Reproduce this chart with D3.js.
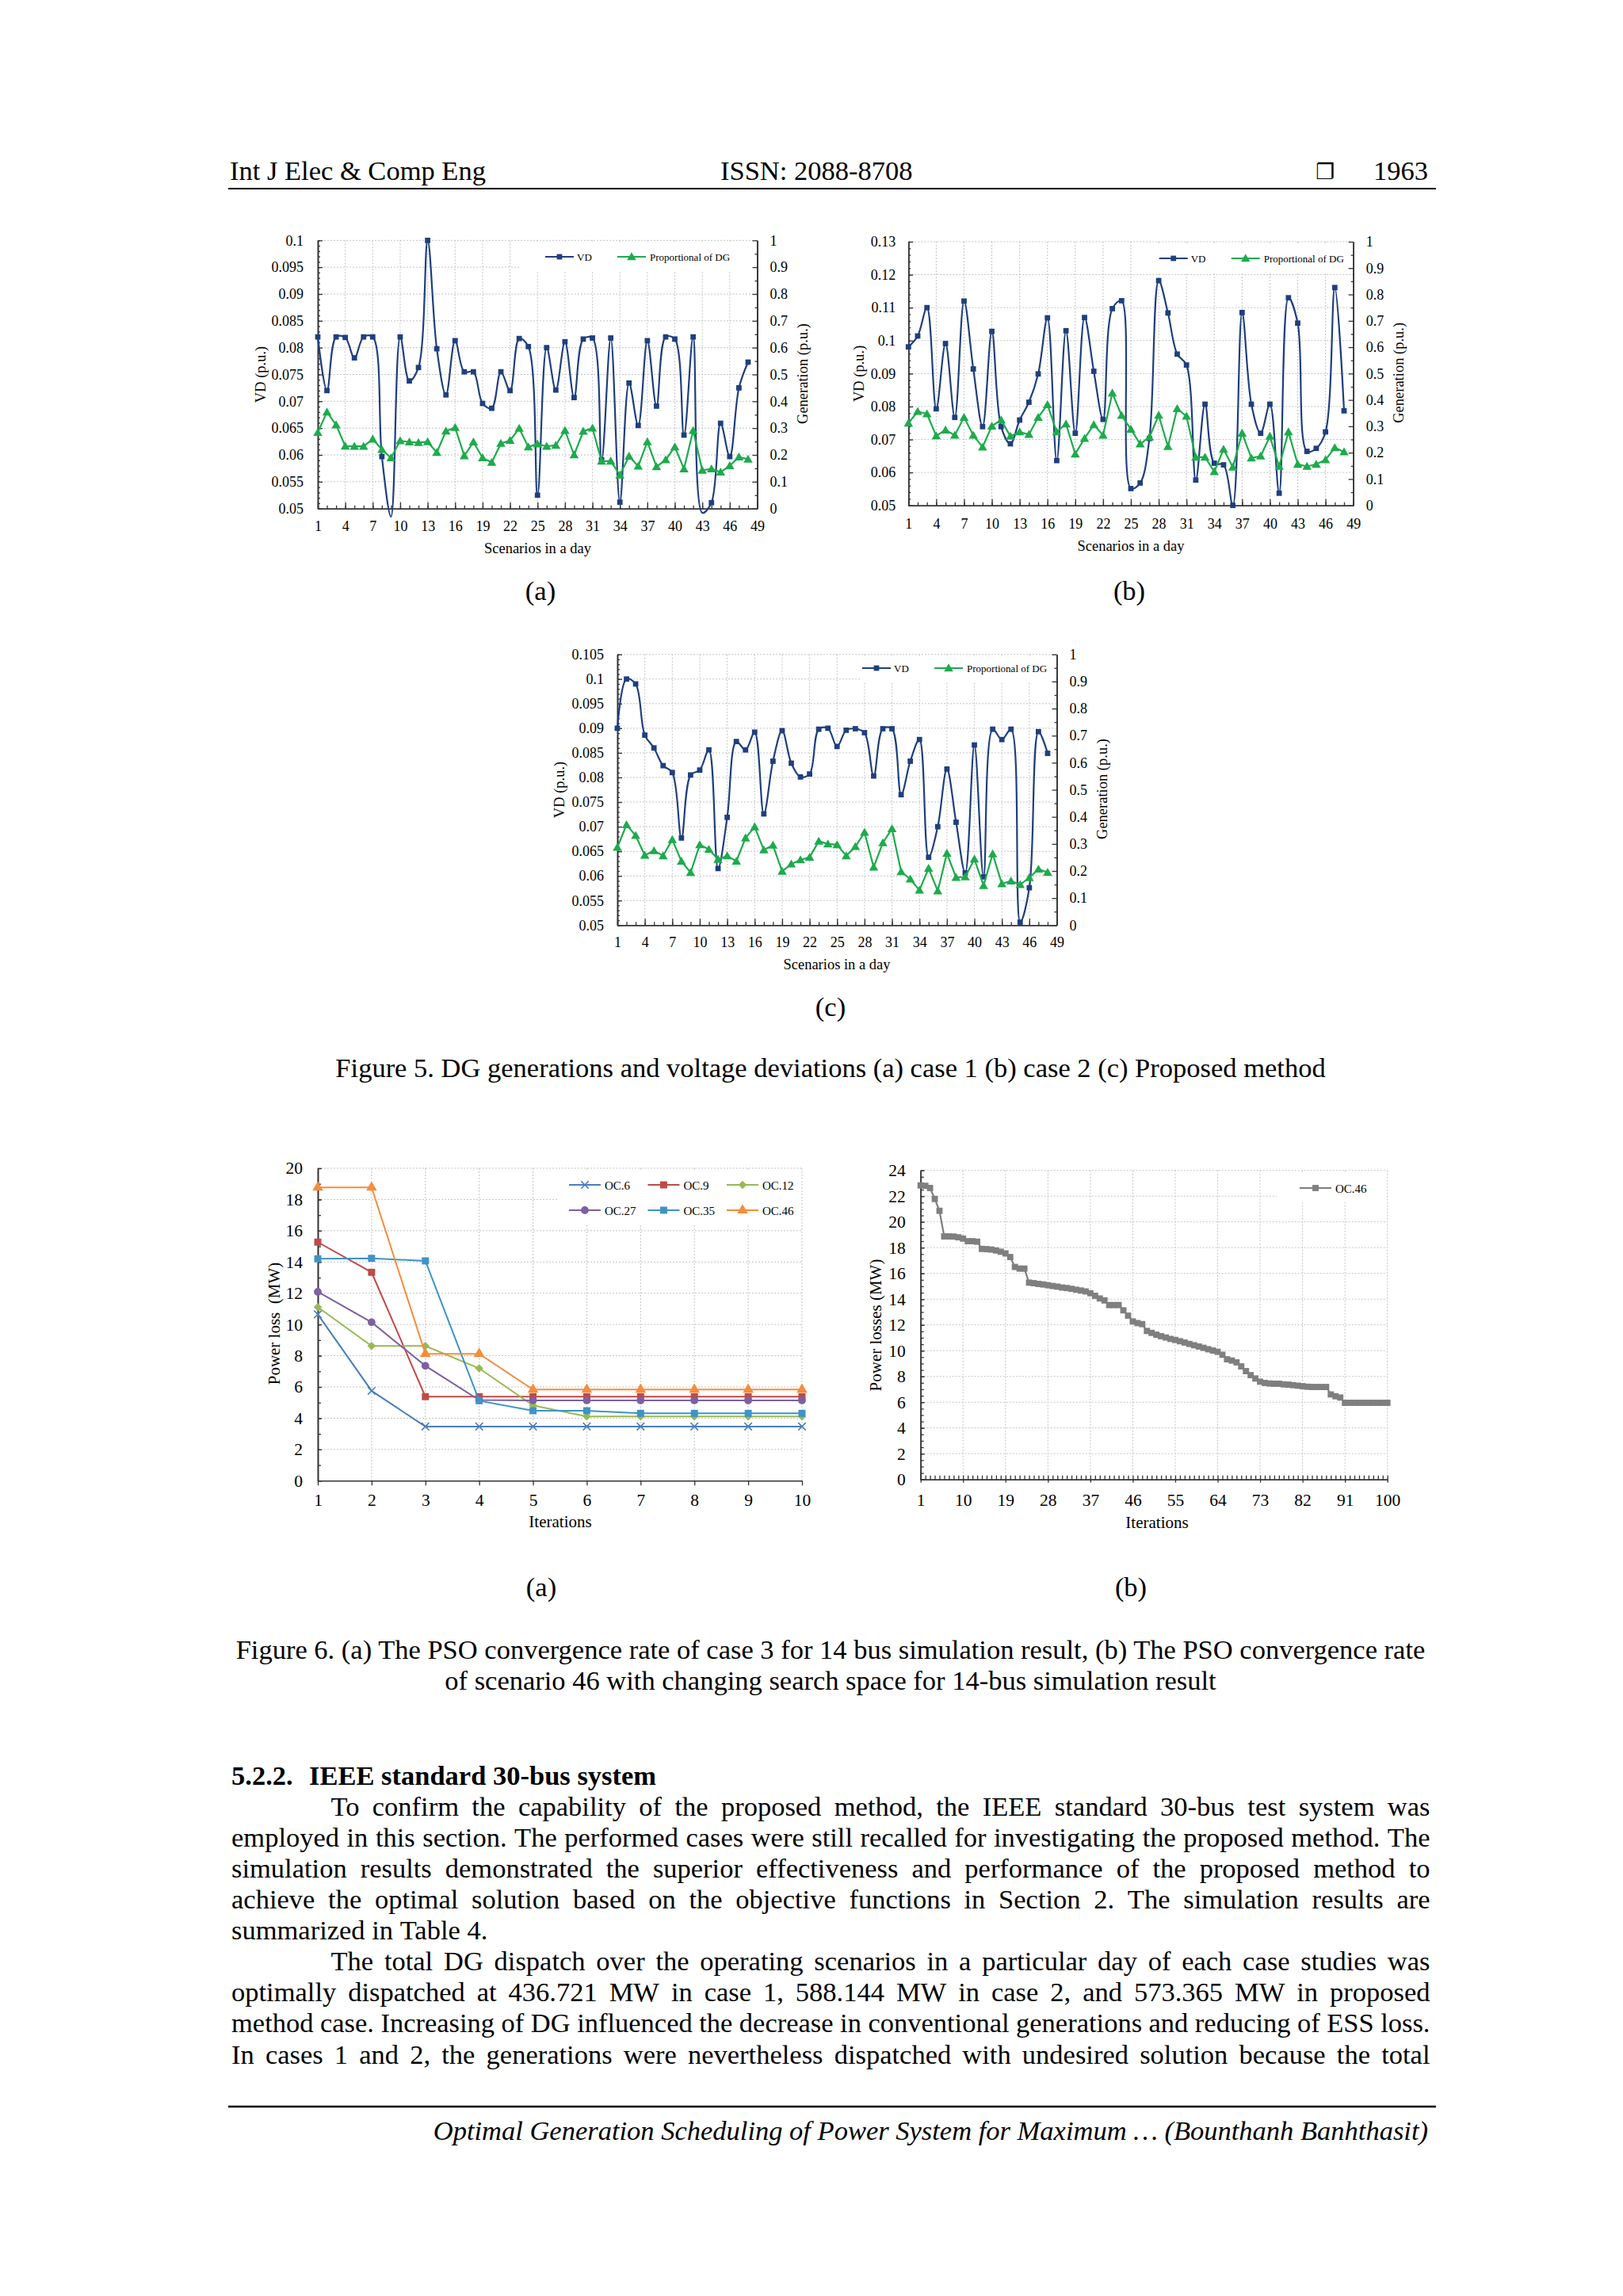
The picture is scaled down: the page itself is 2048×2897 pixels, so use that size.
<!DOCTYPE html>
<html><head><meta charset="utf-8">
<script src="https://cdn.jsdelivr.net/npm/d3@7"></script>
<style>body{margin:0;background:#fff}svg{display:block}</style>
</head><body><svg id="page" width="2048" height="2897"></svg>
<script>
// ---------------- DATA ----------------
const scenarios = [1,2,3,4,5,6,7,8,9,10,11,12,13,14,15,16,17,18,19,20,21,22,23,24,25,26,27,28,29,30,31,32,33,34,35,36,37,38,39,40,41,42,43,44,45,46,47,48];
const scenarioTicks = [1,4,7,10,13,16,19,22,25,28,31,34,37,40,43,46,49];
const genTicks = [0,0.1,0.2,0.3,0.4,0.5,0.6,0.7,0.8,0.9,1];
const vdTicksA = [0.05,0.055,0.06,0.065,0.07,0.075,0.08,0.085,0.09,0.095,0.1];
const vdTicksB = [0.05,0.06,0.07,0.08,0.09,0.1,0.11,0.12,0.13];
const vdTicksC = [0.05,0.055,0.06,0.065,0.07,0.075,0.08,0.085,0.09,0.095,0.1,0.105];
const fig5Legend = ["VD","Proportional of DG"];

const vdCase1 = [0.0820,0.0720,0.0820,0.0819,0.0781,0.0820,0.0820,0.0597,0.0485,0.0820,
 0.0738,0.0763,0.1000,0.0798,0.0712,0.0813,0.0755,0.0755,0.0696,0.0687,
 0.0755,0.0720,0.0817,0.0802,0.0525,0.0800,0.0721,0.0811,0.0707,0.0816,
 0.0818,0.0591,0.0818,0.0512,0.0734,0.0655,0.0813,0.0691,0.0820,0.0816,
 0.0637,0.0820,0.0492,0.0511,0.0659,0.0597,0.0725,0.0773];
const dgCase1 = [0.284,0.360,0.312,0.233,0.232,0.232,0.259,0.220,0.189,0.253,
 0.248,0.246,0.249,0.209,0.289,0.302,0.197,0.248,0.189,0.172,
 0.243,0.254,0.299,0.230,0.241,0.232,0.236,0.291,0.200,0.288,
 0.300,0.177,0.177,0.125,0.195,0.158,0.249,0.156,0.182,0.230,
 0.148,0.291,0.143,0.148,0.136,0.160,0.192,0.184];
const vdCase2 = [0.0981,0.1014,0.1100,0.0793,0.0991,0.0767,0.1120,0.0914,0.0739,0.1028,
 0.0739,0.0687,0.0759,0.0813,0.0899,0.1069,0.0636,0.1030,0.0719,0.1070,
 0.0907,0.0761,0.1097,0.1121,0.0551,0.0568,0.0703,0.1182,0.1084,0.0959,
 0.0926,0.0577,0.0807,0.0628,0.0623,0.0500,0.1085,0.0807,0.0719,0.0807,
 0.0537,0.1130,0.1053,0.0664,0.0673,0.0723,0.1161,0.0787];
const dgCase2 = [0.312,0.356,0.347,0.264,0.286,0.266,0.334,0.266,0.221,0.301,
 0.324,0.262,0.279,0.269,0.334,0.382,0.279,0.309,0.195,0.254,
 0.306,0.266,0.426,0.341,0.289,0.233,0.259,0.342,0.223,0.367,
 0.338,0.183,0.183,0.128,0.213,0.145,0.274,0.180,0.187,0.262,
 0.148,0.279,0.156,0.148,0.156,0.173,0.219,0.203];
const vdProposed = [0.0900,0.1000,0.0990,0.0886,0.0860,0.0824,0.0810,0.0677,0.0805,0.0815,
 0.0856,0.0615,0.0719,0.0873,0.0856,0.0892,0.0726,0.0833,0.0895,0.0829,
 0.0801,0.0807,0.0898,0.0900,0.0863,0.0896,0.0899,0.0891,0.0803,0.0899,
 0.0899,0.0765,0.0833,0.0877,0.0638,0.0700,0.0817,0.0709,0.0606,0.0866,
 0.0598,0.0898,0.0877,0.0898,0.0506,0.0576,0.0893,0.0849];
const dgProposed = [0.287,0.371,0.331,0.258,0.275,0.256,0.316,0.236,0.194,0.297,
 0.280,0.243,0.256,0.236,0.322,0.363,0.278,0.295,0.199,0.226,
 0.241,0.251,0.310,0.300,0.297,0.256,0.290,0.343,0.214,0.304,
 0.356,0.197,0.170,0.129,0.210,0.126,0.265,0.176,0.178,0.244,
 0.146,0.263,0.153,0.163,0.150,0.175,0.207,0.195];

const iterA = [1,2,3,4,5,6,7,8,9,10];
const lossTicksA = [0,2,4,6,8,10,12,14,16,18,20];
const ocNamesA = ["OC.6","OC.9","OC.12","OC.27","OC.35","OC.46"];
const oc6  = [10.65,5.75,3.47,3.47,3.47,3.47,3.47,3.47,3.47,3.47];
const oc9  = [15.27,13.34,5.38,5.38,5.38,5.38,5.38,5.38,5.38,5.38];
const oc12 = [11.11,8.62,8.62,7.19,4.82,4.11,4.11,4.11,4.11,4.11];
const oc27 = [12.09,10.14,7.35,5.16,5.14,5.14,5.14,5.14,5.14,5.14];
const oc35 = [14.20,14.23,14.07,5.12,4.48,4.48,4.31,4.31,4.31,4.31];
const oc46 = [18.77,18.77,8.12,8.12,5.83,5.83,5.83,5.83,5.83,5.83];

const iterB = [1,2,3,4,5,6,7,8,9,10,11,12,13,14,15,16,17,18,19,20,21,22,23,24,25,26,27,28,29,30,
 31,32,33,34,35,36,37,38,39,40,41,42,43,44,45,46,47,48,49,50,51,52,53,54,55,56,57,58,59,60,
 61,62,63,64,65,66,67,68,69,70,71,72,73,74,75,76,77,78,79,80,81,82,83,84,85,86,87,88,89,90,
 91,92,93,94,95,96,97,98,99,100];
const iterTicksB = [1,10,19,28,37,46,55,64,73,82,91,100];
const lossTicksB = [0,2,4,6,8,10,12,14,16,18,20,22,24];
const ocNameB = "OC.46";
const oc46Search = [22.83,22.80,22.63,21.78,20.86,18.87,18.87,18.86,18.80,18.70,
 18.50,18.50,18.46,17.90,17.88,17.85,17.78,17.68,17.55,17.27,
 16.50,16.37,16.37,15.28,15.24,15.18,15.14,15.08,15.02,14.97,
 14.90,14.86,14.80,14.73,14.67,14.60,14.46,14.26,14.05,13.90,
 13.54,13.54,13.54,13.13,12.72,12.27,12.14,12.06,11.53,11.38,
 11.24,11.12,11.02,10.91,10.83,10.73,10.63,10.52,10.42,10.32,
 10.22,10.11,10.01,9.91,9.68,9.33,9.23,9.09,8.78,8.41,
 8.10,7.84,7.59,7.49,7.45,7.43,7.43,7.38,7.36,7.32,
 7.28,7.24,7.20,7.18,7.18,7.18,7.18,6.60,6.46,6.36,
 5.95,5.95,5.95,5.95,5.95,5.95,5.95,5.95,5.95,5.95];

// ---------------- PAGE ----------------
const SERIF = '"Liberation Serif","Times New Roman",Times,serif';
const svg = d3.select("#page");
svg.append("rect").attr("width",2048).attr("height",2897).attr("fill","#fff");

function txt(parent, x, y, s, size, opts={}) {
  const t = parent.append("text").attr("x",x).attr("y",y).text(s)
    .style("font-family", opts.family || SERIF).style("font-size", size+"px").attr("fill","#000");
  if (opts.anchor) t.attr("text-anchor", opts.anchor);
  if (opts.weight) t.style("font-weight", opts.weight);
  if (opts.italic) t.style("font-style","italic");
  if (opts.rotate) t.attr("transform", `rotate(-90,${x},${y})`).attr("dy","0.35em");
  return t;
}

// header
txt(svg, 290, 227, "Int J Elec & Comp Eng", 34.5);
txt(svg, 909, 227, "ISSN: 2088-8708", 34.5);
txt(svg, 1660, 226, "\u2750", 27, {family:'"DejaVu Sans",sans-serif'});
txt(svg, 1802, 227, "1963", 34.5, {anchor:"end"});
svg.append("line").attr("x1",288).attr("x2",1812).attr("y1",238).attr("y2",238).attr("stroke","#000").attr("stroke-width",2);

const NAVY = "#1f3f7e", GREEN = "#1dab4c", GRID = "#c4c4c4", AXIS = "#333";
const fmt = d => String(+d.toFixed(4));

function styleAxis(sel, size) {
  sel.select(".domain").attr("stroke", AXIS).attr("stroke-width", 1.6);
  sel.selectAll(".tick line").attr("stroke", AXIS).attr("stroke-width", 1.3);
  sel.selectAll("text").style("font-family", SERIF).style("font-size", size+"px").attr("fill","#000");
}

// ---------- Figure 5 ----------
function drawFig5(c) {
  const g = svg.append("g");
  const x = d3.scaleLinear().domain([1,49]).range([c.left, c.right]);
  const y = d3.scaleLinear().domain(c.yDomain).range([c.bottom, c.top]);
  const y2 = d3.scaleLinear().domain([0,1]).range([c.bottom, c.top]);
  // grid
  g.append("g").selectAll("line").data(c.yTicks.slice(1)).join("line")
    .attr("x1", c.left).attr("x2", c.right).attr("y1", d=>y(d)).attr("y2", d=>y(d))
    .attr("stroke", GRID).attr("stroke-dasharray","2,2");
  g.append("g").selectAll("line").data(scenarioTicks.slice(1)).join("line")
    .attr("x1", d=>x(d)).attr("x2", d=>x(d)).attr("y1", c.top).attr("y2", c.bottom)
    .attr("stroke", GRID).attr("stroke-dasharray","2,2");
  // legend background
  g.append("rect").attr("x", c.lgBox[0]).attr("y", c.lgBox[1]).attr("width", c.lgBox[2]-c.lgBox[0]).attr("height", c.lgBox[3]-c.lgBox[1]).attr("fill","#fff");
  // axes
  const minorY = d3.range(c.yDomain[0], c.yDomain[1]+1e-9, c.yMinor);
  g.append("g").attr("transform",`translate(${c.left},0)`).call(d3.axisLeft(y).tickValues(minorY).tickSize(-3).tickSizeOuter(0).tickFormat("")).call(s=>styleAxis(s,18));
  g.append("g").attr("transform",`translate(${c.left},0)`).call(d3.axisLeft(y).tickValues(c.yTicks).tickSize(-6).tickSizeOuter(0).tickPadding(c.lPad).tickFormat(fmt)).call(s=>styleAxis(s,18));
  g.append("g").attr("transform",`translate(${c.right},0)`).call(d3.axisRight(y2).tickValues(d3.range(0.05,1,0.1)).tickSize(-3).tickSizeOuter(0).tickFormat("")).call(s=>styleAxis(s,18));
  g.append("g").attr("transform",`translate(${c.right},0)`).call(d3.axisRight(y2).tickValues(genTicks).tickSize(-6).tickSizeOuter(0).tickPadding(16).tickFormat(fmt)).call(s=>styleAxis(s,18));
  g.append("g").attr("transform",`translate(0,${c.bottom})`).call(d3.axisBottom(x).tickValues(d3.range(1,50)).tickSize(-4).tickSizeOuter(0).tickFormat("")).call(s=>styleAxis(s,18));
  const xa = g.append("g").attr("transform",`translate(0,${c.bottom})`).call(d3.axisBottom(x).tickValues(scenarioTicks).tickSize(-8).tickSizeOuter(0).tickFormat(d=>String(d))).call(s=>styleAxis(s,18));
  xa.selectAll("text").attr("dy", null).attr("y", c.xLabBase - c.bottom);
  // series
  const lineVD = d3.line().x((d,i)=>x(scenarios[i])).y(d=>y(d)).curve(d3.curveCatmullRom.alpha(0.5));
  g.append("path").attr("d", lineVD(c.vd)).attr("fill","none").attr("stroke",NAVY).attr("stroke-width",2.2);
  const vdPts = c.vd.map((v,i)=>[scenarios[i],v]).filter(d=>d[1] >= c.yDomain[0]-1e-9);
  g.append("g").selectAll("path").data(vdPts).join("path")
    .attr("d", d3.symbol(d3.symbolSquare, 46)).attr("transform", d=>`translate(${x(d[0])},${y(d[1])})`).attr("fill",NAVY);
  const lineDG = d3.line().x((d,i)=>x(scenarios[i])).y(d=>y2(d));
  g.append("path").attr("d", lineDG(c.dg)).attr("fill","none").attr("stroke",GREEN).attr("stroke-width",2.2);
  g.append("g").selectAll("path").data(c.dg.map((v,i)=>[scenarios[i],v])).join("path")
    .attr("d", d3.symbol(d3.symbolTriangle, 58)).attr("transform", d=>`translate(${x(d[0])},${y2(d[1])+1})`).attr("fill",GREEN);
  // legend
  const lx = c.lg[0], ly = c.lg[1];
  g.append("line").attr("x1",lx).attr("x2",lx+36).attr("y1",ly).attr("y2",ly).attr("stroke",NAVY).attr("stroke-width",2.2);
  g.append("path").attr("d", d3.symbol(d3.symbolSquare,46)).attr("transform",`translate(${lx+18},${ly})`).attr("fill",NAVY);
  txt(g, lx+40, ly+4.5, fig5Legend[0], 13);
  g.append("line").attr("x1",lx+91).attr("x2",lx+127).attr("y1",ly).attr("y2",ly).attr("stroke",GREEN).attr("stroke-width",2.2);
  g.append("path").attr("d", d3.symbol(d3.symbolTriangle,58)).attr("transform",`translate(${lx+109},${ly+1})`).attr("fill",GREEN);
  txt(g, lx+132, ly+4.5, fig5Legend[1], 13);
  // titles
  txt(g, c.lTitleX, (c.top+c.bottom)/2, "VD (p.u.)", 18.5, {anchor:"middle", rotate:true});
  txt(g, c.rTitleX, (c.top+c.bottom)/2 - 1, "Generation (p.u.)", 18.5, {anchor:"middle", rotate:true});
  txt(g, c.xTitleX, c.xTitleBase, "Scenarios in a day", 18.5, {anchor:"middle"});
}

drawFig5({left:401, right:955.5, top:303.3, bottom:641.7, yDomain:[0.05,0.1], yTicks:vdTicksA, yMinor:0.001, lPad:18,
  vd:vdCase1, dg:dgCase1, lg:[688,324], lgBox:[655,305,954,343], lTitleX:328.5, rTitleX:1013, xLabBase:670.5, xTitleX:678.5, xTitleBase:698.3});
drawFig5({left:1146.3, right:1707.7, top:305, bottom:637.7, yDomain:[0.05,0.13], yTicks:vdTicksB, yMinor:0.002, lPad:16,
  vd:vdCase2, dg:dgCase2, lg:[1462.7,326], lgBox:[1435,307,1706,344], lTitleX:1083.5, rTitleX:1764.7, xLabBase:666.7, xTitleX:1427, xTitleBase:695});
drawFig5({left:779, right:1333.5, top:825.7, bottom:1167.3, yDomain:[0.05,0.105], yTicks:vdTicksC, yMinor:0.001, lPad:17,
  vd:vdProposed, dg:dgProposed, lg:[1088,843], lgBox:[1085,827.5,1332,860], lTitleX:706, rTitleX:1390.5, xLabBase:1195.5, xTitleX:1056, xTitleBase:1223});

txt(svg, 682, 757, "(a)", 34.5, {anchor:"middle"});
txt(svg, 1425, 757, "(b)", 34.5, {anchor:"middle"});
txt(svg, 1048, 1282, "(c)", 34.5, {anchor:"middle"});
txt(svg, 1048, 1359, "Figure 5. DG generations and voltage deviations (a) case 1 (b) case 2 (c) Proposed method", 34.5, {anchor:"middle"});

// ---------- Figure 6 ----------
function marker(kind, size) {
  const map = {x: d3.symbolX, square: d3.symbolSquare, diamond: d3.symbolDiamond2 || d3.symbolDiamond, circle: d3.symbolCircle, triangle: d3.symbolTriangle};
  return d3.symbol(map[kind], size)();
}
function drawFig6(c) {
  const g = svg.append("g");
  const x = d3.scaleLinear().domain(c.xDomain).range([c.left, c.right]);
  const y = d3.scaleLinear().domain(c.yDomain).range([c.bottom, c.top]);
  g.append("g").selectAll("line").data(c.yTicks.slice(1)).join("line")
    .attr("x1", c.left).attr("x2", c.right).attr("y1", d=>y(d)).attr("y2", d=>y(d))
    .attr("stroke", GRID).attr("stroke-dasharray","2,2");
  g.append("g").selectAll("line").data(c.xTicks.slice(1)).join("line")
    .attr("x1", d=>x(d)).attr("x2", d=>x(d)).attr("y1", c.top).attr("y2", c.bottom)
    .attr("stroke", GRID).attr("stroke-dasharray","2,2");
  g.append("rect").attr("x", c.lgBox[0]).attr("y", c.lgBox[1]).attr("width", c.lgBox[2]-c.lgBox[0]).attr("height", c.lgBox[3]-c.lgBox[1]).attr("fill","#fff");
  g.append("g").attr("transform",`translate(${c.left},0)`).call(d3.axisLeft(y).tickValues(d3.range(c.yDomain[0], c.yDomain[1]+1e-9, c.yMinor)).tickSize(-4).tickSizeOuter(0).tickFormat("")).call(s=>styleAxis(s,21));
  g.append("g").attr("transform",`translate(${c.left},0)`).call(d3.axisLeft(y).tickValues(c.yTicks).tickSize(-5).tickSizeOuter(0).tickPadding(19).tickFormat(d=>String(d))).call(s=>styleAxis(s,21.5));
  if (c.xMinor) g.append("g").attr("transform",`translate(0,${c.bottom})`).call(d3.axisBottom(x).tickValues(c.xMinor).tickSize(-5).tickSizeOuter(0).tickFormat("")).call(s=>styleAxis(s,21));
  const xa = g.append("g").attr("transform",`translate(0,${c.bottom})`).call(d3.axisBottom(x).tickValues(c.xTicks).tickSize(c.xTickSize).tickSizeOuter(0).tickFormat(d=>String(d))).call(s=>styleAxis(s,21.5));
  xa.selectAll("text").attr("dy", null).attr("y", c.xLabBase - c.bottom);
  c.series.forEach(s => {
    const ln = d3.line().x((d,i)=>x(c.xs[i])).y(d=>y(d));
    g.append("path").attr("d", ln(s.v)).attr("fill","none").attr("stroke", s.color).attr("stroke-width", s.w || 2);
    const isX = s.m === "x";
    g.append("g").selectAll("path").data(s.v.map((v,i)=>[c.xs[i],v])).join("path")
      .attr("d", marker(s.m, s.size)).attr("transform", d=>`translate(${x(d[0])},${y(d[1])})`)
      .attr("fill", isX ? "none" : s.color).attr("stroke", isX ? s.color : "none").attr("stroke-width", 1.6);
  });
  c.series.forEach((s, k) => {
    const [lx, ly] = c.lgPos[k];
    g.append("line").attr("x1",lx).attr("x2",lx+40).attr("y1",ly).attr("y2",ly).attr("stroke",s.color).attr("stroke-width",s.w||2);
    const isX = s.m === "x";
    g.append("path").attr("d", marker(s.m, s.size)).attr("transform",`translate(${lx+20},${ly})`)
      .attr("fill", isX ? "none" : s.color).attr("stroke", isX ? s.color : "none").attr("stroke-width",1.6);
    txt(g, lx+45, ly+5.5, s.name, 15);
  });
  txt(g, c.yTitle[0], c.yTitle[1], c.yTitleText, 21, {anchor:"middle", rotate:true});
  txt(g, c.xTitle[0], c.xTitle[1], "Iterations", 21, {anchor:"middle"});
}

drawFig6({left:401, right:1012, top:1474, bottom:1868.3, xDomain:[1,10], yDomain:[0,20], yTicks:lossTicksA, yMinor:1,
  xTicks:iterA, xTickSize:6, xMinor:null, xLabBase:1900, xs:iterA,
  series:[
    {name:ocNamesA[0], v:oc6,  color:"#4a7ebb", m:"x", size:60},
    {name:ocNamesA[1], v:oc9,  color:"#be4b48", m:"square", size:80},
    {name:ocNamesA[2], v:oc12, color:"#98b954", m:"diamond", size:70},
    {name:ocNamesA[3], v:oc27, color:"#7d60a0", m:"circle", size:75},
    {name:ocNamesA[4], v:oc35, color:"#3f93c5", m:"square", size:80},
    {name:ocNamesA[5], v:oc46, color:"#f68c3c", m:"triangle", size:80}],
  lgPos:[[718,1495],[817.5,1495],[917,1495],[718,1527],[817.5,1527],[917,1527]],
  lgBox:[703,1476,1011,1545], yTitle:[345.5,1670], yTitleText:"Power loss\u00a0 (MW)", xTitle:[707,1927]});

drawFig6({left:1161.7, right:1750.7, top:1476.7, bottom:1866.7, xDomain:[1,100], yDomain:[0,24], yTicks:lossTicksB, yMinor:0.5,
  xTicks:iterTicksB, xTickSize:4, xMinor:iterB, xLabBase:1900, xs:iterB,
  series:[{name:ocNameB, v:oc46Search, color:"#7f7f7f", m:"square", size:62, w:2.2}],
  lgPos:[[1640,1499]], lgBox:[1611,1479,1749,1517], yTitle:[1105,1672], yTitleText:"Power losses (MW)", xTitle:[1460,1928]});

txt(svg, 683, 2014, "(a)", 34.5, {anchor:"middle"});
txt(svg, 1427, 2014, "(b)", 34.5, {anchor:"middle"});
txt(svg, 1048, 2093, "Figure 6. (a) The PSO convergence rate of case 3 for 14 bus simulation result, (b) The PSO convergence rate", 34.5, {anchor:"middle"});
txt(svg, 1048, 2132, "of scenario 46 with changing search space for 14-bus simulation result", 34.5, {anchor:"middle"});

// ---------- Body text ----------
txt(svg, 292, 2252, "5.2.2.", 34.5, {weight:"bold"});
txt(svg, 390, 2252, "IEEE standard 30-bus system", 34.5, {weight:"bold"});
const bodyLines = [
 {t:"To confirm the capability of the proposed method, the IEEE standard 30-bus test system was", indent:true, justify:true},
 {t:"employed in this section. The performed cases were still recalled for investigating the proposed method. The", justify:true},
 {t:"simulation results demonstrated the superior effectiveness and performance of the proposed method to", justify:true},
 {t:"achieve the optimal solution based on the objective functions in Section 2. The simulation results are", justify:true},
 {t:"summarized in Table 4.", justify:false},
 {t:"The total DG dispatch over the operating scenarios in a particular day of each case studies was", indent:true, justify:true},
 {t:"optimally dispatched at 436.721 MW in case 1, 588.144 MW in case 2, and 573.365 MW in proposed", justify:true},
 {t:"method case. Increasing of DG influenced the decrease in conventional generations and reducing of ESS loss.", justify:true},
 {t:"In cases 1 and 2, the generations were nevertheless dispatched with undesired solution because the total", justify:true}
];
bodyLines.forEach((ln, k) => {
  const yb = 2291 + k*39.07;
  const x0 = ln.indent ? 417.5 : 292, x1 = 1804.5;
  const words = ln.t.split(" ");
  const g = svg.append("g");
  const nodes = words.map(w => txt(g, 0, yb, w, 34.5));
  const widths = nodes.map(n => n.node().getComputedTextLength());
  const total = d3.sum(widths);
  const space = 34.5*0.25;
  let gap = ln.justify ? (x1 - x0 - total)/(words.length-1) : space;
  let scale = 1;
  const minGap = space*0.55;
  if (ln.justify && gap < minGap) { scale = (x1 - x0 - minGap*(words.length-1))/total; gap = minGap; }
  let xx = x0;
  nodes.forEach((n,i) => {
    n.attr("x", xx);
    if (scale < 1) n.attr("textLength", widths[i]*scale).attr("lengthAdjust","spacingAndGlyphs");
    xx += widths[i]*scale + gap;
  });
});

// footer
svg.append("line").attr("x1",288).attr("x2",1812).attr("y1",2658).attr("y2",2658).attr("stroke","#000").attr("stroke-width",2.5);
txt(svg, 1802, 2700, "Optimal Generation Scheduling of Power System for Maximum \u2026 (Bounthanh Banhthasit)", 34.5, {anchor:"end", italic:true});
</script>
</body></html>
